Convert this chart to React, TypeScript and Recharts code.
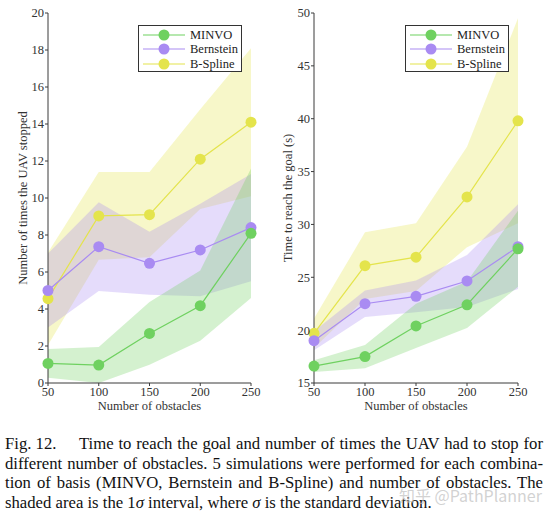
import React from 'react';
import { ComposedChart, Area, Line, XAxis, YAxis, Legend } from 'recharts';

const obstacles = [50, 100, 150, 200, 250];
const seriesNames = ['MINVO', 'Bernstein', 'B-Spline'];
const seriesColors = ['#6fd160', '#a98bf2', '#e4e44c'];

// Left panel: number of times the UAV stopped (mean and 1-sigma)
const stopsMinvo = [1.06, 0.97, 2.68, 4.18, 8.09];
const stopsMinvoStd = [0.78, 0.97, 1.7, 1.9, 3.5];
const stopsBernstein = [5.0, 7.37, 6.47, 7.19, 8.4];
const stopsBernsteinStd = [2.0, 2.4, 1.7, 2.5, 2.9];
const stopsBSpline = [4.56, 9.03, 9.1, 12.1, 14.1];
const stopsBSplineStd = [2.5, 2.37, 2.3, 2.7, 4.0];
const stopsTicks = [0, 2, 4, 6, 8, 10, 12, 14, 16, 18, 20];

// Right panel: time to reach the goal (s)
const timeMinvo = [16.6, 17.5, 20.4, 22.4, 27.7];
const timeMinvoStd = [0.55, 1.1, 2.1, 2.2, 3.6];
const timeBernstein = [19.0, 22.5, 23.2, 24.65, 27.9];
const timeBernsteinStd = [0.9, 1.25, 1.5, 2.45, 4.0];
const timeBSpline = [19.7, 26.1, 26.9, 32.6, 39.8];
const timeBSplineStd = [1.4, 3.15, 3.2, 4.75, 9.7];
const timeTicks = [15, 20, 25, 30, 35, 40, 45, 50];

const FONT = '"Liberation Serif", "Times New Roman", Times, serif';
const AXIS = '#3a3a3a';

type PanelProps = {
  means: number[][];
  stds: number[][];
  ticks: number[];
  yLabel: string;
  left: number;
  width: number;
  yAxisWidth: number;
  rightMargin: number;
  yLabelOffset: number;
  legendLeft: number;
};

function buildRows(means: number[][], stds: number[][]) {
  return obstacles.map((x, i) => {
    const row: Record<string, any> = { x };
    means.forEach((m, s) => {
      row['mean' + s] = m[i];
      row['band' + s] = [m[i] - stds[s][i], m[i] + stds[s][i]];
    });
    return row;
  });
}

function LegendBox() {
  return (
    <div
      style={{
        width: 104,
        height: 47,
        border: '1px solid #333',
        background: '#fff',
        boxSizing: 'border-box',
        paddingTop: 2,
        fontFamily: FONT,
        fontSize: 12.5,
        color: '#222',
        whiteSpace: 'nowrap',
      }}
    >
      {seriesNames.map((n, i) => (
        <div key={n} style={{ display: 'flex', alignItems: 'center', height: 14.3, whiteSpace: 'nowrap' }}>
          <svg width={47} height={12} style={{ marginLeft: 4, flex: 'none' }}>
            <line x1={0} y1={6} x2={42} y2={6} stroke={seriesColors[i]} strokeWidth={1.2} />
            <circle cx={21} cy={6} r={5.5} fill={seriesColors[i]} />
          </svg>
          <span style={{ lineHeight: '14px', whiteSpace: 'nowrap' }}>{n}</span>
        </div>
      ))}
    </div>
  );
}

function Panel(p: PanelProps) {
  const rows = buildRows(p.means, p.stds);
  const order = [2, 1, 0];
  const tickStyle = { fontFamily: FONT, fontSize: 12.5, fill: '#333' };
  const series: React.ReactNode[] = [];
  order.forEach((s) => {
    series.push(
      <Area
        key={'a' + s}
        dataKey={'band' + s}
        type="linear"
        stroke="none"
        fill={seriesColors[s]}
        fillOpacity={0.3}
        isAnimationActive={false}
        activeDot={false}
      />
    );
    series.push(
      <Line
        key={'l' + s}
        dataKey={'mean' + s}
        type="linear"
        stroke={seriesColors[s]}
        strokeWidth={1.2}
        dot={{ r: 5.5, fill: seriesColors[s], stroke: 'none' }}
        activeDot={false}
        isAnimationActive={false}
      />
    );
  });
  return (
    <div style={{ position: 'absolute', left: p.left, top: 0, fontFamily: FONT }}>
      <ComposedChart
        width={p.width}
        height={420}
        data={rows}
        margin={{ top: 13, right: p.rightMargin, bottom: 0, left: 0 }}
        style={{ fontFamily: FONT }}
      >
        <XAxis
          dataKey="x"
          type="number"
          domain={[50, 250]}
          ticks={obstacles}
          height={37}
          stroke={AXIS}
          tickSize={3}
          tickMargin={1}
          tick={tickStyle}
          label={{
            value: 'Number of obstacles',
            position: 'insideBottom',
            offset: 10,
            style: { fontFamily: FONT, fontSize: 12.5, fill: '#333' },
          }}
        />
        <YAxis
          type="number"
          domain={[p.ticks[0], p.ticks[p.ticks.length - 1]]}
          ticks={p.ticks}
          width={p.yAxisWidth}
          stroke={AXIS}
          tickSize={3}
          tickMargin={1}
          tick={tickStyle}
          label={{
            value: p.yLabel,
            angle: -90,
            position: 'insideLeft',
            offset: p.yLabelOffset,
            style: { fontFamily: FONT, fontSize: 12.5, fill: '#333', textAnchor: 'middle' },
          }}
        />
        {series}
        <Legend
          layout="vertical"
          align="center"
          verticalAlign="middle"
          content={() => <LegendBox />}
          wrapperStyle={{ left: p.legendLeft, top: 25, width: 104, height: 47 }}
        />
      </ComposedChart>
    </div>
  );
}

export default function App() {
  return (
    <div
      style={{
        position: 'absolute',
        left: 0,
        top: 0,
        width: 549,
        height: 513,
        background: '#fff',
        overflow: 'hidden',
      }}
    >
      <Panel
        means={[stopsMinvo, stopsBernstein, stopsBSpline]}
        stds={[stopsMinvoStd, stopsBernsteinStd, stopsBSplineStd]}
        ticks={stopsTicks}
        yLabel="Number of times the UAV stopped"
        left={0}
        width={275}
        yAxisWidth={48}
        rightMargin={24}
        yLabelOffset={23}
        legendLeft={138}
      />
      <Panel
        means={[timeMinvo, timeBernstein, timeBSpline]}
        stds={[timeMinvoStd, timeBernsteinStd, timeBSplineStd]}
        ticks={timeTicks}
        yLabel="Time to reach the goal (s)"
        left={275}
        width={274}
        yAxisWidth={39}
        rightMargin={31}
        yLabelOffset={13}
        legendLeft={130}
      />
      <div
        style={{
          position: 'absolute',
          left: 5,
          top: 434,
          width: 538,
          fontFamily: FONT,
          fontSize: 16.7,
          lineHeight: '19.6px',
          color: '#111',
        }}
      >
        <div style={{ textAlign: 'justify', textAlignLast: 'justify' }}>
          <span style={{ display: 'inline-block', width: 74, textAlign: 'left', textAlignLast: 'left' }}>Fig. 12.</span>
          Time to reach the goal and number of times the UAV had to stop for
        </div>
        <div style={{ textAlign: 'justify', textAlignLast: 'justify' }}>
          different number of obstacles. 5 simulations were performed for each combina-
        </div>
        <div style={{ textAlign: 'justify', textAlignLast: 'justify' }}>
          tion of basis (MINVO, Bernstein and B-Spline) and number of obstacles. The
        </div>
        <div>
          shaded area is the 1<i>σ</i> interval, where <i>σ</i> is the standard deviation.
        </div>
      </div>
      <div
        style={{
          position: 'absolute',
          left: 399,
          top: 483,
          fontFamily: '"Noto Sans CJK SC", "Noto Sans", sans-serif',
          fontSize: 16,
          color: 'rgba(190,190,190,0.7)',
          whiteSpace: 'nowrap',
        }}
      >
        知乎 @PathPlanner
      </div>
    </div>
  );
}
